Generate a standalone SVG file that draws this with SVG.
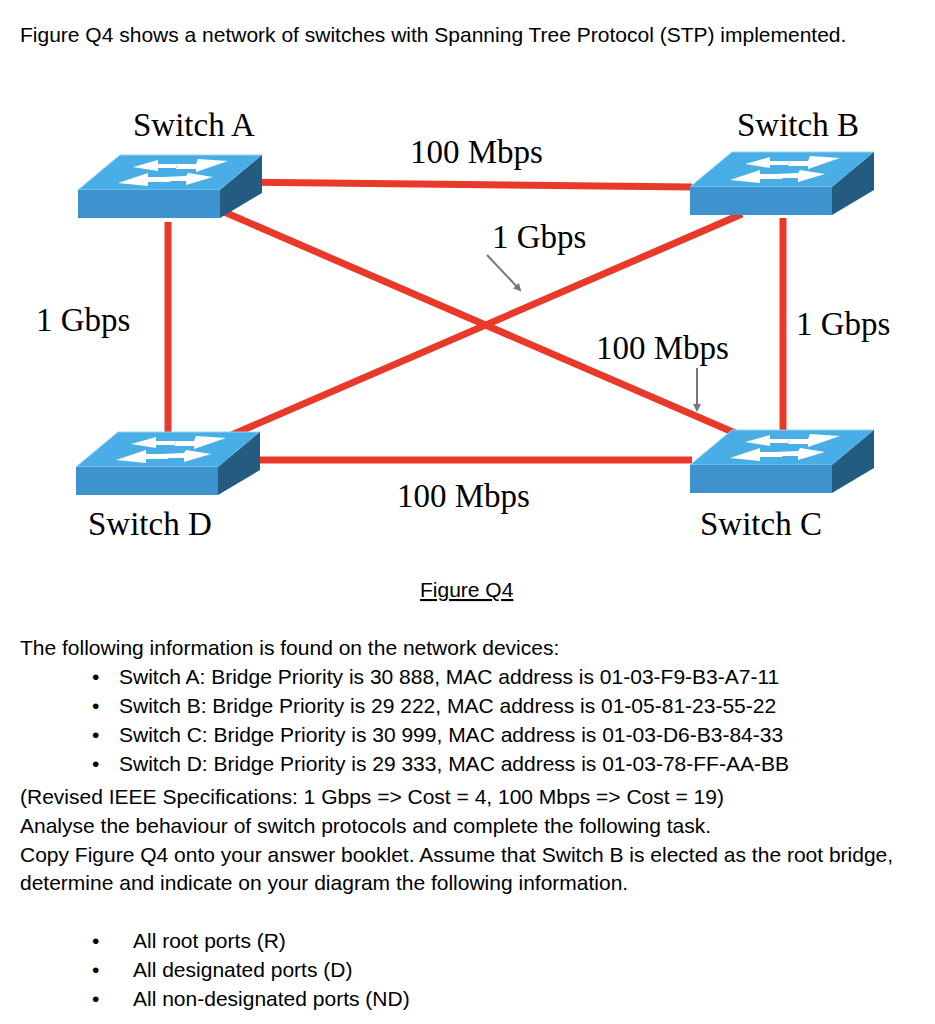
<svg xmlns="http://www.w3.org/2000/svg" width="935" height="1024" viewBox="0 0 935 1024">
<style>
.t{font-family:"Liberation Sans",Arial,sans-serif;font-size:21px;fill:#000}
.s{font-family:"Liberation Serif","Times New Roman",serif;font-size:33px;fill:#000}
.l{stroke:#E8392A;stroke-width:7;fill:none}
.top{fill:#4AAEE6;stroke:#8fd3f5;stroke-width:1}
.front{fill:#3E93CF}
.side{fill:#235C80}
.ar{fill:#fff}
</style>
<defs>
<g id="sw">
<polygon class="top" points="42,0 184,0 142,35 0,35"/>
<rect class="front" x="0" y="35" width="142" height="28"/>
<polygon class="side" points="142,35 184,0 184,38 142,63"/>
<polygon class="ar" points="40,28 70,18 70,22 95,22 92,27 70,27 70,31"/>
<polygon class="ar" points="55,12 80,5 80,9 100,9 98,13 80,13 80,16"/>
<polygon class="ar" points="150,6 120,4 118,9 100,9 98,14 118,14 118,17"/>
<polygon class="ar" points="135,22 110,18 108,21 85,22 83,26 108,26 108,30"/>
</g>
<marker id="ga" markerWidth="8" markerHeight="8" refX="6" refY="4" orient="auto" markerUnits="userSpaceOnUse"><path d="M0,0 L8,4 L0,8Z" fill="#777"/></marker>
</defs>
<rect width="935" height="1024" fill="#fff"/>
<text class="t" x="20" y="42">Figure Q4 shows a network of switches with Spanning Tree Protocol (STP) implemented.</text>
<g id="connectors">
<line class="l" x1="220" y1="182" x2="692" y2="187"/>
<line class="l" x1="168" y1="222" x2="168" y2="434"/>
<line class="l" x1="783" y1="218" x2="783" y2="430"/>
<line class="l" x1="218" y1="460" x2="692" y2="460"/>
<line class="l" x1="215" y1="208" x2="742" y2="436"/>
<line class="l" x1="220" y1="440" x2="742" y2="214"/>
<line x1="487" y1="255" x2="520" y2="290" stroke="#777" stroke-width="2" marker-end="url(#ga)"/>
<line x1="697" y1="368" x2="697" y2="410" stroke="#777" stroke-width="2" marker-end="url(#ga)"/>
</g>
<g id="switchA"><use href="#sw" x="78" y="155"/><text class="s" x="133" y="136">Switch A</text></g>
<g id="switchB"><use href="#sw" x="690" y="152"/><text class="s" x="737" y="136">Switch B</text></g>
<g id="switchD"><use href="#sw" x="76" y="432"/><text class="s" x="88" y="535">Switch D</text></g>
<g id="switchC"><use href="#sw" x="690" y="430"/><text class="s" x="700" y="535">Switch C</text></g>
<text class="s" x="410" y="163">100 Mbps</text>
<text class="s" x="492" y="248">1 Gbps</text>
<text class="s" x="36" y="331">1 Gbps</text>
<text class="s" x="796" y="335">1 Gbps</text>
<text class="s" x="596" y="359">100 Mbps</text>
<text class="s" x="397" y="507">100 Mbps</text>
<text class="t" x="420" y="597" text-decoration="underline">Figure Q4</text>
<g class="t">
<text x="20" y="655">The following information is found on the network devices:</text>
<text x="92" y="684">•</text><text x="119" y="684">Switch A: Bridge Priority is 30 888, MAC address is 01-03-F9-B3-A7-11</text>
<text x="92" y="713">•</text><text x="119" y="713">Switch B: Bridge Priority is 29 222, MAC address is 01-05-81-23-55-22</text>
<text x="92" y="742">•</text><text x="119" y="742">Switch C: Bridge Priority is 30 999, MAC address is 01-03-D6-B3-84-33</text>
<text x="92" y="771">•</text><text x="119" y="771">Switch D: Bridge Priority is 29 333, MAC address is 01-03-78-FF-AA-BB</text>
<text x="20" y="804">(Revised IEEE Specifications: 1 Gbps =&gt; Cost = 4, 100 Mbps =&gt; Cost = 19)</text>
<text x="20" y="833">Analyse the behaviour of switch protocols and complete the following task.</text>
<text x="20" y="862">Copy Figure Q4 onto your answer booklet. Assume that Switch B is elected as the root bridge,</text>
<text x="20" y="890">determine and indicate on your diagram the following information.</text>
<text x="92" y="948">•</text><text x="133" y="948">All root ports (R)</text>
<text x="92" y="977">•</text><text x="133" y="977">All designated ports (D)</text>
<text x="92" y="1006">•</text><text x="133" y="1006">All non-designated ports (ND)</text>
</g>
</svg>
